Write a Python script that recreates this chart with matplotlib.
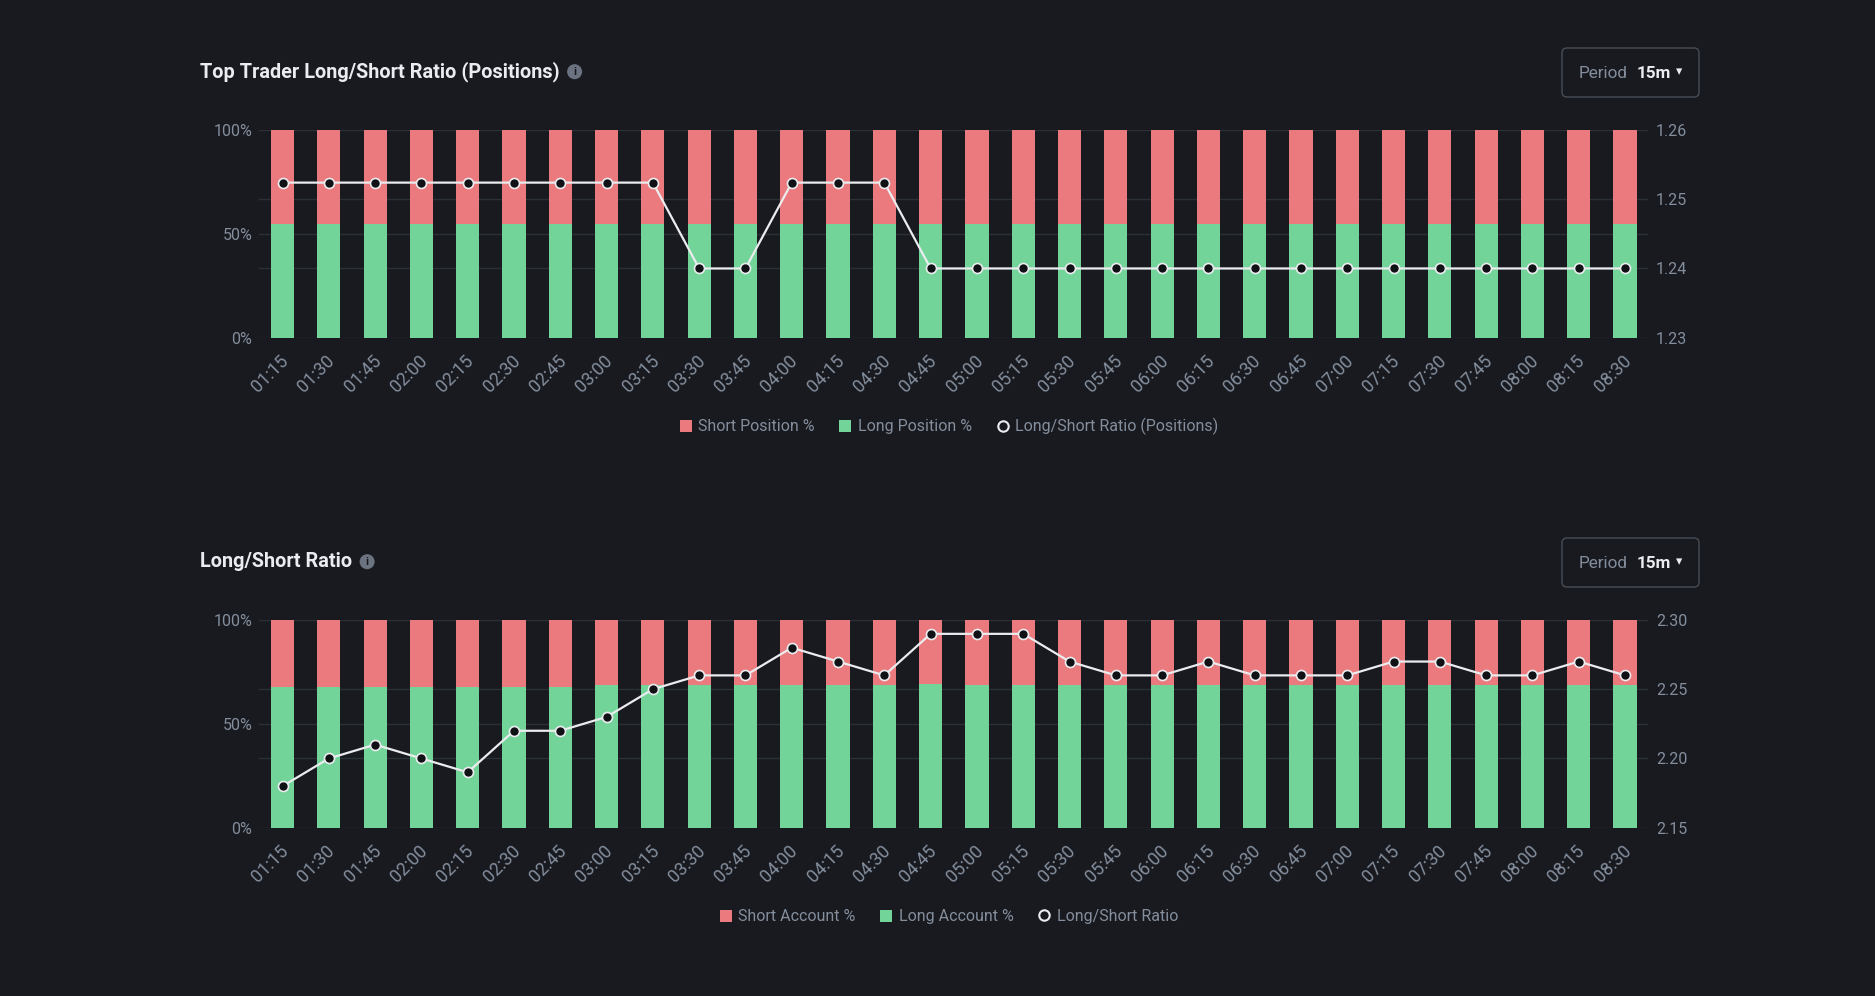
import matplotlib
matplotlib.use('Agg')
import matplotlib.pyplot as plt
import matplotlib.transforms as mtransforms
from matplotlib.patches import Patch, FancyBboxPatch, Circle
from matplotlib.lines import Line2D
from matplotlib.ticker import FormatStrFormatter

plt.rcParams['font.family'] = ['Roboto', 'DejaVu Sans']

# x categories (15m periods)
times = ['01:15', '01:30', '01:45', '02:00', '02:15', '02:30', '02:45', '03:00',
         '03:15', '03:30', '03:45', '04:00', '04:15', '04:30', '04:45', '05:00',
         '05:15', '05:30', '05:45', '06:00', '06:15', '06:30', '06:45', '07:00',
         '07:15', '07:30', '07:45', '08:00', '08:15', '08:30']

# top chart: top trader positions
pos_long = [54.8, 54.8, 54.8, 54.8, 54.8, 54.8, 54.8, 54.8, 54.8, 54.8,
            54.8, 54.8, 54.8, 54.8, 54.8, 54.8, 54.8, 54.8, 54.8, 54.8,
            54.8, 54.8, 54.8, 54.8, 54.8, 54.8, 54.8, 54.8, 54.8, 54.8]
pos_ratio = [1.2524, 1.2524, 1.2524, 1.2524, 1.2524, 1.2524, 1.2524, 1.2524,
             1.2524, 1.2400, 1.2400, 1.2524, 1.2524, 1.2524, 1.2400, 1.2400,
             1.2400, 1.2400, 1.2400, 1.2400, 1.2400, 1.2400, 1.2400, 1.2400,
             1.2400, 1.2400, 1.2400, 1.2400, 1.2400, 1.2400]
pos_ticks = [1.23, 1.24, 1.25, 1.26]

# bottom chart: accounts
acc_long = [67.9, 67.9, 67.9, 67.9, 67.9, 67.9, 67.9, 68.5, 68.5, 68.5,
            68.5, 68.5, 68.5, 68.5, 69.3, 68.5, 68.5, 68.5, 68.5, 68.5,
            68.5, 68.5, 68.5, 68.5, 68.5, 68.5, 68.5, 68.5, 68.5, 68.5]
acc_ratio = [2.18, 2.20, 2.21, 2.20, 2.19, 2.22, 2.22, 2.23, 2.25, 2.26,
             2.26, 2.28, 2.27, 2.26, 2.29, 2.29, 2.29, 2.27, 2.26, 2.26,
             2.27, 2.26, 2.26, 2.26, 2.27, 2.27, 2.26, 2.26, 2.27, 2.26]
acc_ticks = [2.15, 2.20, 2.25, 2.30]

BG = '#181A20'
GRID = '#2B2F36'
TXT = '#848E9C'
WHITE = '#EAECEF'
RED = '#EA7A7D'
GREEN = '#72D498'
DOT = '#0F1115'

W, H = 1875, 996
fig = plt.figure(figsize=(W / 100, H / 100), dpi=100, facecolor=BG)


def fx(px):
    return px / W


def fy(px):
    return 1 - px / H


def panel(top, title, long_vals, ratio_vals, rticks, names):
    x = list(range(len(times)))
    short_vals = [100 - v for v in long_vals]
    lo, hi = rticks[0], rticks[-1]

    ax = fig.add_axes([fx(259.4), fy(top + 207.7), 1388.8 / W, 207.7 / H])
    ax.set_facecolor(BG)
    ax.bar(x, long_vals, width=0.5, color=GREEN, zorder=2)
    ax.bar(x, short_vals, bottom=long_vals, width=0.5, color=RED, zorder=2)
    ax.set_xlim(-0.5, len(times) - 0.5)
    ax.set_ylim(0, 100)
    ax.set_yticks([0, 50, 100])
    ax.set_yticklabels(['0%', '50%', '100%'])
    # right-axis grid lines drawn on the bar axes so they stay behind the bars
    ax.set_yticks([(t - lo) / (hi - lo) * 100 for t in rticks], minor=True)
    ax.grid(axis='y', which='both', color=GRID, lw=1)
    ax.set_axisbelow(True)
    ax.set_xticks(x)
    for s in ax.spines.values():
        s.set_visible(False)
    ax.tick_params(axis='both', which='both', length=0, colors=TXT)
    ax.tick_params(axis='y', pad=5, labelsize=11.5)
    ax.tick_params(axis='x', pad=10)
    ax.set_xticklabels(times, rotation=45, ha='right', rotation_mode='anchor',
                       fontsize=12.8)
    shift = mtransforms.ScaledTranslation(-3 / 100, 0, fig.dpi_scale_trans)
    for lab in ax.get_xticklabels():
        lab.set_transform(lab.get_transform() + shift)

    ax2 = ax.twinx()
    ax2.patch.set_visible(False)
    ax2.plot(x, ratio_vals, color=WHITE, lw=1.6, marker='o', ms=7.2,
             mfc=DOT, mec=WHITE, mew=1.2, zorder=3)
    ax2.set_ylim(lo, hi)
    ax2.set_yticks(rticks)
    ax2.yaxis.set_major_formatter(FormatStrFormatter('%.2f'))
    for s in ax2.spines.values():
        s.set_visible(False)
    ax2.tick_params(axis='y', length=0, colors=TXT, labelsize=11.5, pad=5.5)

    # title + info icon
    t = fig.text(fx(200), fy(top - 58.3), title, ha='left', va='center',
                 color=WHITE, fontsize=14.3, fontweight='bold')
    fig.canvas.draw()
    bb = t.get_window_extent(fig.canvas.get_renderer())
    cx = (bb.x1 + 15) / 100
    cy = (H - (top - 58.3)) / 100
    fig.add_artist(Circle((cx, cy), 0.075, transform=fig.dpi_scale_trans,
                          fc='#6B7380', ec='none'))
    fig.text(cx * 100 / W, cy * 100 / H, 'i', ha='center', va='center',
             color=BG, fontsize=8, fontweight='bold')

    # period selector
    fig.add_artist(FancyBboxPatch((15.62, (H - (top - 33)) / 100), 1.37, 0.49,
                                  boxstyle='round,pad=0,rounding_size=0.05',
                                  transform=fig.dpi_scale_trans,
                                  fc=BG, ec='#474D57', lw=1))
    fig.text(fx(1579), fy(top - 57), 'Period', ha='left', va='center',
             color=TXT, fontsize=12.3)
    fig.text(fx(1637), fy(top - 57), '15m', ha='left', va='center',
             color=WHITE, fontsize=12.3, fontweight='bold')
    fig.text(fx(1679), fy(top - 58), '▾', ha='center', va='center',
             color=WHITE, fontsize=9, family='DejaVu Sans')

    # legend
    handles = [Patch(fc=RED, ec='none'), Patch(fc=GREEN, ec='none'),
               Line2D([], [], ls='none', marker='o', ms=7.5, mfc=BG, mec=WHITE, mew=1.5)]
    fig.legend(handles, names, loc='center', bbox_to_anchor=(fx(949), fy(top + 296.7)),
               ncol=3, frameon=False, fontsize=11.5, labelcolor=TXT,
               handlelength=0.75, handleheight=0.78, handletextpad=0.4,
               columnspacing=1.55)


panel(130, 'Top Trader Long/Short Ratio (Positions)', pos_long, pos_ratio, pos_ticks,
      ['Short Position %', 'Long Position %', 'Long/Short Ratio (Positions)'])
panel(620, 'Long/Short Ratio', acc_long, acc_ratio, acc_ticks,
      ['Short Account %', 'Long Account %', 'Long/Short Ratio'])

fig.savefig('out.png', dpi=100, facecolor=BG)
